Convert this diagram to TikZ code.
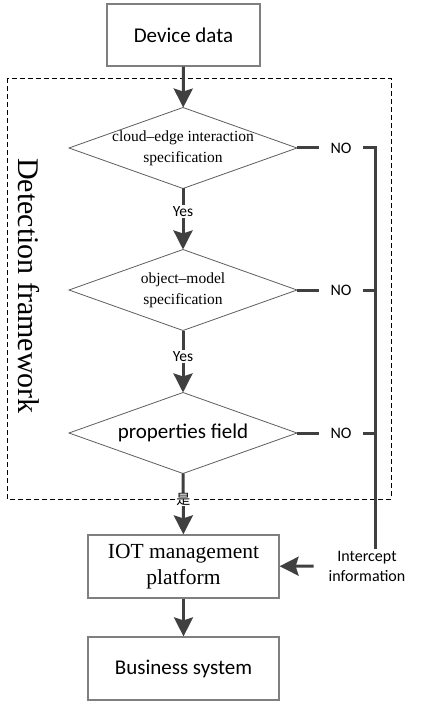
\documentclass[tikz,border=0pt]{standalone}
\usepackage{fontspec}
\setmainfont{Liberation Serif}
\newfontfamily\calib{Carlito}
\newfontfamily\cjk{Noto Sans CJK SC}
\usepackage{tikz}
\usetikzlibrary{shapes.geometric}
\usetikzlibrary{arrows.meta}
\definecolor{linegray}{HTML}{404040}
\definecolor{boxgray}{HTML}{7F7F7F}
\tikzset{
  box node/.style={rectangle,draw=boxgray,line width=1.2pt,minimum width=191pt,minimum height=63pt,inner sep=0pt,align=center},
  decision node/.style={diamond,draw=linegray!85,line width=0.8pt,minimum width=228pt,minimum height=81pt,inner sep=0pt,outer sep=0pt},
  inner text/.style={align=center,font=\fontsize{15.5}{21}\selectfont},
  yes node/.style={fill=white,inner sep=1.5pt,font=\calib\fontsize{15.5}{18}\selectfont},
  no node/.style={inner xsep=11.5pt,inner ysep=0pt,font=\calib\fontsize{16}{19}\selectfont},
  flow/.style={line width=3pt,draw=linegray}
}

\begin{document}
\begin{tikzpicture}[x=1pt,y=-1pt,>={Stealth[length=19pt,width=19pt,inset=3pt]}]
  \useasboundingbox (0,0) rectangle (420,708);
  % detection framework
  \draw[dashed,line width=0.8pt,dash pattern=on 5pt off 3pt] (7,78) rectangle (391,499);
  \node[rotate=-90,font=\fontsize{30}{36}\selectfont] (title) at (29,286) {Detection framework};

  \node[box node,minimum width=153pt,minimum height=62pt,font=\calib\fontsize{21}{25}\selectfont] (device) at (183.5,35) {Device data};
  \node[decision node,label={[inner text]center:cloud--edge interaction\\specification}] (cloud) at (183,148) {};
  \node[decision node,label={[inner text]center:object--model\\specification}] (model) at (183,290) {};
  \node[decision node,label={[inner text,font=\calib\fontsize{21}{25}\selectfont]center:properties field}] (props) at (183,433) {};
  \node[box node,font=\fontsize{21.5}{26}\selectfont] (iot) at (183.5,566.5) {IOT management\\platform};
  \node[box node,font=\calib\fontsize{21}{25}\selectfont] (business) at (183.5,668.5) {Business system};

  % main flow
  \draw[flow,->] (device) -- (cloud);
  \draw[flow,->] (cloud) -- node[yes node,pos=0.38] {Yes} (model);
  \draw[flow,->] (model) -- node[yes node,pos=0.42] {Yes} (props);
  \draw[flow,->] (props) -- node[yes node,pos=0.43,inner sep=0.5pt,font=\cjk\fontsize{14}{16}\selectfont] {是} (iot);
  \draw[flow,->] (iot) -- (business);

  % rejected data
  \node[no node] (no1) at (341,148) {NO};
  \node[no node] (no2) at (341,290) {NO};
  \node[no node] (no3) at (341,433) {NO};
  \node[align=center,inner xsep=15pt,inner ysep=2pt,font=\calib\fontsize{16}{20}\selectfont] (intercept) at (367,566) {Intercept\\information};
  \coordinate (bartop) at (375,148);
  \draw[flow] (cloud.east) -- (no1);
  \draw[flow] (model.east) -- (no2);
  \draw[flow] (props.east) -- (no3);
  \draw[flow] (no1) -- (bartop) -- (bartop |- intercept.north);
  \draw[flow] (no2) -- (no2 -| bartop);
  \draw[flow] (no3) -- (no3 -| bartop);
  \draw[flow,->] (intercept) -- (iot);
\end{tikzpicture}
\end{document}
